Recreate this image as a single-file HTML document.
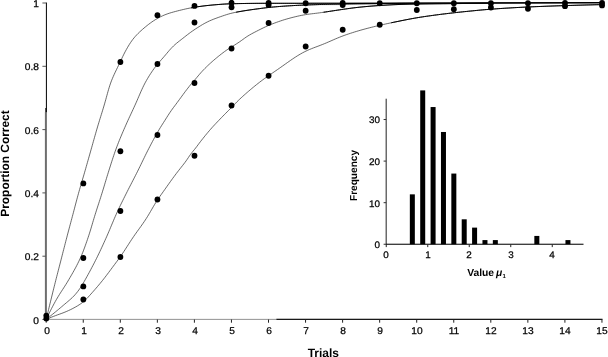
<!DOCTYPE html><html><head><meta charset="utf-8"><style>
html,body{margin:0;padding:0;background:#fff}
#c{position:relative;width:608px;height:357px;overflow:hidden;background:#fff;font-family:"Liberation Sans",sans-serif;color:#000}
.t{position:absolute;white-space:nowrap;line-height:1;text-rendering:geometricPrecision}
.yl{font-size:9.8px;text-align:right;width:30px;transform:scaleX(1.04);transform-origin:100% 50%;-webkit-text-stroke:0.25px #000}
.xl{font-size:9.8px;text-align:center;width:30px;transform:scaleX(1.04);transform-origin:50% 50%;-webkit-text-stroke:0.25px #000}
.iyl{font-size:9.5px;text-align:right;width:30px;transform:scaleX(1.04);transform-origin:100% 50%;-webkit-text-stroke:0.25px #000}
.ixl{font-size:9.5px;text-align:center;width:30px;transform:scaleX(1.04);transform-origin:50% 50%;-webkit-text-stroke:0.25px #000}
.b{font-weight:bold}
</style></head><body><div id="c">
<svg width="608" height="357" viewBox="0 0 608 357" style="position:absolute;left:0;top:0">
<rect x="45.9" y="2.5" width="1" height="110" fill="#000"/>
<rect x="45.3" y="108" width="1.6" height="4.5" fill="#111"/>
<rect x="44.9" y="112" width="2" height="208" fill="#6e6e6e"/>
<rect x="46" y="318.9" width="231" height="0.8" fill="#777"/>
<rect x="276.5" y="318.75" width="326" height="1.15" fill="#000"/>
<rect x="42.4" y="319.00" width="3.6" height="1" fill="#555"/>
<rect x="42.4" y="255.70" width="3.6" height="1" fill="#555"/>
<rect x="42.4" y="192.40" width="3.6" height="1" fill="#555"/>
<rect x="42.4" y="129.10" width="3.6" height="1" fill="#555"/>
<rect x="42.4" y="65.80" width="3.6" height="1" fill="#555"/>
<rect x="42.4" y="2.50" width="3.6" height="1" fill="#555"/>
<rect x="45.70" y="319.5" width="1" height="3.2" fill="#222"/>
<rect x="82.75" y="319.5" width="1" height="3.2" fill="#222"/>
<rect x="119.80" y="319.5" width="1" height="3.2" fill="#222"/>
<rect x="156.85" y="319.5" width="1" height="3.2" fill="#222"/>
<rect x="193.90" y="319.5" width="1" height="3.2" fill="#222"/>
<rect x="230.95" y="319.5" width="1" height="3.2" fill="#222"/>
<rect x="268.00" y="319.5" width="1" height="3.2" fill="#222"/>
<rect x="305.05" y="319.5" width="1" height="3.2" fill="#222"/>
<rect x="342.10" y="319.5" width="1" height="3.2" fill="#222"/>
<rect x="379.15" y="319.5" width="1" height="3.2" fill="#222"/>
<rect x="416.20" y="319.5" width="1" height="3.2" fill="#222"/>
<rect x="453.25" y="319.5" width="1" height="3.2" fill="#222"/>
<rect x="490.30" y="319.5" width="1" height="3.2" fill="#222"/>
<rect x="527.35" y="319.5" width="1" height="3.2" fill="#222"/>
<rect x="564.40" y="319.5" width="1" height="3.2" fill="#222"/>
<rect x="601.45" y="319.5" width="1" height="3.2" fill="#222"/>
<path d="M46.25 319.30 L46.71 317.35 L47.18 315.41 L47.64 313.46 L48.11 311.52 L48.57 309.57 L49.04 307.63 L49.51 305.69 L49.98 303.74 L50.46 301.80 L50.93 299.86 L51.41 297.91 L51.88 295.97 L52.36 294.03 L52.84 292.09 L53.32 290.15 L53.80 288.20 L54.29 286.26 L54.77 284.32 L55.26 282.38 L55.74 280.44 L56.23 278.50 L56.73 276.57 L57.22 274.63 L57.72 272.69 L58.22 270.75 L58.72 268.82 L59.22 266.88 L59.72 264.94 L60.22 263.01 L60.72 261.07 L61.21 259.13 L61.71 257.20 L62.21 255.26 L62.70 253.32 L63.20 251.38 L63.69 249.45 L64.19 247.51 L64.69 245.57 L65.18 243.63 L65.68 241.70 L66.18 239.76 L66.69 237.83 L67.19 235.89 L67.70 233.96 L68.21 232.02 L68.72 230.09 L69.24 228.16 L69.75 226.22 L70.27 224.29 L70.79 222.36 L71.30 220.43 L71.82 218.50 L72.33 216.56 L72.85 214.63 L73.36 212.70 L73.87 210.76 L74.38 208.83 L74.88 206.89 L75.39 204.96 L75.90 203.03 L76.41 201.09 L76.93 199.16 L77.45 197.23 L77.97 195.30 L78.51 193.37 L79.04 191.44 L79.59 189.52 L80.14 187.60 L80.70 185.68 L81.26 183.76 L81.82 181.84 L82.39 179.92 L82.95 178.00 L83.52 176.08 L84.08 174.16 L84.64 172.24 L85.19 170.32 L85.74 168.40 L86.29 166.48 L86.84 164.55 L87.39 162.63 L87.93 160.70 L88.48 158.78 L89.02 156.86 L89.57 154.93 L90.11 153.01 L90.66 151.08 L91.20 149.16 L91.75 147.23 L92.29 145.31 L92.83 143.38 L93.37 141.46 L93.92 139.53 L94.46 137.61 L95.00 135.68 L95.55 133.76 L96.10 131.84 L96.65 129.92 L97.22 128.00 L97.78 126.08 L98.36 124.16 L98.94 122.25 L99.52 120.34 L100.11 118.43 L100.71 116.52 L101.30 114.61 L101.90 112.70 L102.49 110.79 L103.07 108.87 L103.65 106.96 L104.22 105.04 L104.78 103.12 L105.32 101.20 L105.86 99.27 L106.39 97.34 L106.91 95.41 L107.44 93.48 L107.97 91.56 L108.52 89.63 L109.10 87.72 L109.70 85.81 L110.33 83.91 L111.01 82.03 L111.73 80.17 L112.48 78.32 L113.27 76.48 L114.08 74.65 L114.93 72.84 L115.79 71.03 L116.66 69.24 L117.54 67.44 L118.42 65.64 L119.28 63.84 L120.14 62.03 L120.98 60.22 L121.83 58.41 L122.70 56.60 L123.58 54.81 L124.48 53.02 L125.41 51.25 L126.37 49.50 L127.36 47.76 L128.37 46.04 L129.42 44.34 L130.51 42.66 L131.64 41.02 L132.82 39.41 L134.07 37.85 L135.37 36.33 L136.72 34.86 L138.12 33.43 L139.55 32.04 L141.02 30.69 L142.52 29.36 L144.03 28.06 L145.57 26.77 L147.12 25.52 L148.70 24.28 L150.30 23.08 L151.92 21.92 L153.57 20.80 L155.26 19.72 L156.98 18.70 L158.72 17.73 L160.49 16.81 L162.29 15.94 L164.12 15.14 L165.98 14.40 L167.85 13.71 L169.75 13.09 L171.67 12.51 L173.59 11.97 L175.52 11.44 L177.45 10.94 L179.39 10.45 L181.33 9.97 L183.28 9.50 L185.23 9.06 L187.18 8.63 L189.14 8.23 L191.11 7.85 L193.07 7.50 L195.05 7.17 L197.02 6.86 L199.00 6.57 L200.98 6.30 L202.96 6.04 L204.95 5.80 L206.94 5.57 L208.93 5.36 L210.92 5.16 L212.91 4.97 L214.90 4.80 L216.89 4.63 L218.89 4.47 L220.88 4.32 L222.87 4.18 L224.87 4.06 L226.87 3.95 L228.87 3.86 L230.86 3.78 L232.86 3.73 L234.86 3.68 L236.86 3.63 L238.86 3.59 L240.86 3.56 L242.86 3.52 L244.86 3.49 L246.86 3.45 L248.86 3.43 L250.86 3.40 L252.86 3.38 L254.86 3.36 L256.86 3.34 L258.86 3.33 L260.86 3.32 L262.86 3.31 L264.86 3.30 L266.86 3.30 L268.86 3.30 L270.86 3.30 L272.86 3.30 L274.86 3.30 L276.86 3.30 L278.86 3.30 L280.86 3.30 L282.86 3.30 L284.86 3.30 L286.86 3.30 L288.86 3.30 L290.86 3.30 L292.86 3.30 L294.86 3.30 L296.86 3.30 L298.86 3.30 L300.86 3.30 L302.86 3.30 L304.86 3.30 L306.86 3.30 L308.86 3.30 L310.86 3.30 L312.86 3.30 L314.86 3.30 L316.86 3.30 L318.86 3.30 L320.86 3.30 L322.86 3.30 L324.86 3.30 L326.86 3.30 L328.86 3.30 L330.86 3.30 L332.86 3.30 L334.86 3.30 L336.86 3.30 L338.86 3.30 L340.86 3.30 L342.86 3.30 L344.86 3.30 L346.86 3.30 L348.86 3.30 L350.86 3.30 L352.86 3.30 L354.86 3.29 L356.86 3.29 L358.86 3.29 L360.86 3.29 L362.86 3.29 L364.86 3.28 L366.86 3.28 L368.86 3.28 L370.86 3.27 L372.86 3.27 L374.86 3.27 L376.86 3.26 L378.86 3.26 L380.86 3.25 L382.86 3.25 L384.86 3.25 L386.86 3.24 L388.86 3.24 L390.86 3.23 L392.86 3.23 L394.86 3.22 L396.86 3.22 L398.86 3.21 L400.86 3.20 L402.86 3.20 L404.86 3.19 L406.86 3.19 L408.86 3.18 L410.86 3.18 L412.86 3.17 L414.86 3.16 L416.86 3.16 L418.86 3.15 L420.86 3.15 L422.86 3.14 L424.86 3.13 L426.86 3.13 L428.86 3.12 L430.86 3.12 L432.86 3.11 L434.86 3.10 L436.86 3.10 L438.86 3.09 L440.86 3.08 L442.86 3.08 L444.86 3.07 L446.86 3.07 L448.86 3.06 L450.86 3.06 L452.86 3.05 L454.86 3.04 L456.86 3.04 L458.86 3.03 L460.86 3.03 L462.86 3.02 L464.86 3.02 L466.86 3.01 L468.86 3.01 L470.86 3.00 L472.86 3.00 L474.86 2.99 L476.86 2.99 L478.86 2.98 L480.86 2.98 L482.86 2.97 L484.86 2.97 L486.86 2.97 L488.86 2.96 L490.86 2.96 L492.86 2.95 L494.86 2.95 L496.86 2.94 L498.86 2.94 L500.86 2.93 L502.86 2.93 L504.86 2.92 L506.86 2.92 L508.86 2.91 L510.86 2.91 L512.86 2.91 L514.86 2.90 L516.86 2.90 L518.86 2.89 L520.86 2.89 L522.86 2.88 L524.86 2.88 L526.86 2.87 L528.86 2.87 L530.86 2.86 L532.86 2.86 L534.86 2.85 L536.86 2.85 L538.86 2.85 L540.86 2.84 L542.86 2.84 L544.86 2.83 L546.86 2.83 L548.86 2.82 L550.86 2.82 L552.86 2.81 L554.86 2.81 L556.86 2.80 L558.86 2.80 L560.86 2.79 L562.86 2.79 L564.86 2.79 L566.86 2.78 L568.86 2.78 L570.86 2.77 L572.86 2.77 L574.86 2.76 L576.86 2.76 L578.86 2.75 L580.86 2.75 L582.86 2.74 L584.86 2.74 L586.86 2.73 L588.86 2.73 L590.86 2.73 L592.86 2.72 L594.86 2.72 L596.86 2.71 L598.86 2.71 L600.86 2.70" fill="none" stroke="#2a2a2a" stroke-width="0.7" stroke-linejoin="round"/>
<path d="M46.25 319.30 L47.11 317.50 L47.98 315.69 L48.86 313.90 L49.74 312.10 L50.64 310.32 L51.55 308.53 L52.47 306.76 L53.40 304.99 L54.35 303.23 L55.31 301.47 L56.29 299.73 L57.30 298.01 L58.33 296.29 L59.38 294.59 L60.45 292.90 L61.54 291.22 L62.62 289.54 L63.71 287.86 L64.79 286.18 L65.86 284.49 L66.91 282.79 L67.94 281.07 L68.96 279.35 L69.97 277.63 L70.98 275.90 L71.98 274.17 L72.97 272.43 L73.95 270.69 L74.92 268.94 L75.86 267.18 L76.79 265.41 L77.70 263.63 L78.59 261.83 L79.45 260.03 L80.29 258.21 L81.10 256.38 L81.88 254.54 L82.63 252.69 L83.36 250.83 L84.07 248.96 L84.77 247.09 L85.45 245.21 L86.12 243.32 L86.78 241.43 L87.43 239.54 L88.07 237.65 L88.70 235.75 L89.31 233.85 L89.91 231.94 L90.50 230.03 L91.08 228.11 L91.65 226.20 L92.22 224.28 L92.78 222.36 L93.35 220.44 L93.93 218.53 L94.51 216.61 L95.10 214.70 L95.70 212.80 L96.31 210.89 L96.92 208.98 L97.53 207.08 L98.15 205.18 L98.77 203.28 L99.38 201.37 L100.00 199.47 L100.61 197.57 L101.21 195.66 L101.81 193.75 L102.41 191.84 L102.99 189.93 L103.58 188.02 L104.16 186.10 L104.73 184.19 L105.31 182.27 L105.88 180.36 L106.46 178.44 L107.04 176.53 L107.63 174.62 L108.22 172.71 L108.82 170.80 L109.42 168.89 L110.02 166.98 L110.63 165.08 L111.23 163.17 L111.84 161.27 L112.46 159.36 L113.09 157.46 L113.72 155.57 L114.36 153.67 L115.02 151.78 L115.69 149.90 L116.38 148.02 L117.08 146.15 L117.80 144.28 L118.53 142.42 L119.27 140.57 L120.03 138.71 L120.79 136.87 L121.56 135.02 L122.34 133.18 L123.13 131.34 L123.92 129.50 L124.72 127.67 L125.52 125.84 L126.33 124.01 L127.15 122.18 L127.98 120.36 L128.81 118.55 L129.65 116.73 L130.50 114.92 L131.34 113.11 L132.19 111.29 L133.03 109.48 L133.87 107.66 L134.70 105.84 L135.52 104.02 L136.33 102.19 L137.13 100.36 L137.93 98.52 L138.71 96.69 L139.50 94.85 L140.30 93.01 L141.10 91.18 L141.93 89.36 L142.77 87.55 L143.64 85.75 L144.54 83.96 L145.48 82.20 L146.46 80.45 L147.46 78.72 L148.48 77.00 L149.53 75.31 L150.61 73.62 L151.72 71.95 L152.85 70.31 L154.01 68.68 L155.20 67.07 L156.43 65.50 L157.69 63.95 L158.99 62.42 L160.30 60.91 L161.62 59.41 L162.94 57.91 L164.25 56.40 L165.54 54.88 L166.83 53.35 L168.12 51.82 L169.42 50.30 L170.75 48.80 L172.12 47.35 L173.53 45.94 L175.00 44.59 L176.52 43.30 L178.08 42.04 L179.65 40.80 L181.23 39.58 L182.81 38.35 L184.38 37.11 L185.95 35.87 L187.53 34.65 L189.12 33.44 L190.73 32.26 L192.36 31.10 L194.01 29.96 L195.67 28.85 L197.35 27.76 L199.04 26.69 L200.73 25.63 L202.45 24.60 L204.18 23.61 L205.94 22.66 L207.72 21.75 L209.53 20.90 L211.36 20.11 L213.21 19.35 L215.08 18.63 L216.95 17.94 L218.84 17.26 L220.72 16.60 L222.61 15.95 L224.51 15.30 L226.41 14.68 L228.32 14.10 L230.24 13.56 L232.18 13.07 L234.13 12.63 L236.09 12.23 L238.05 11.85 L240.02 11.50 L241.99 11.16 L243.96 10.83 L245.94 10.52 L247.92 10.22 L249.90 9.93 L251.88 9.64 L253.86 9.37 L255.84 9.10 L257.82 8.84 L259.80 8.58 L261.79 8.31 L263.77 8.05 L265.75 7.80 L267.74 7.57 L269.73 7.35 L271.72 7.15 L273.71 6.97 L275.70 6.80 L277.69 6.64 L279.69 6.48 L281.68 6.33 L283.68 6.19 L285.67 6.05 L287.67 5.92 L289.66 5.79 L291.66 5.68 L293.66 5.56 L295.66 5.45 L297.65 5.35 L299.65 5.25 L301.65 5.16 L303.65 5.08 L305.64 5.00 L307.64 4.92 L309.64 4.85 L311.64 4.78 L313.64 4.71 L315.64 4.65 L317.64 4.58 L319.64 4.52 L321.64 4.47 L323.63 4.41 L325.63 4.36 L327.63 4.31 L329.63 4.26 L331.63 4.21 L333.63 4.17 L335.63 4.13 L337.63 4.09 L339.63 4.05 L341.63 4.02 L343.63 3.99 L345.63 3.96 L347.63 3.93 L349.63 3.90 L351.63 3.88 L353.63 3.85 L355.63 3.83 L357.63 3.81 L359.63 3.79 L361.63 3.77 L363.63 3.75 L365.63 3.73 L367.63 3.71 L369.63 3.69 L371.63 3.67 L373.63 3.65 L375.63 3.64 L377.63 3.62 L379.63 3.60 L381.63 3.58 L383.63 3.56 L385.63 3.54 L387.63 3.53 L389.63 3.51 L391.63 3.49 L393.63 3.47 L395.63 3.46 L397.63 3.44 L399.63 3.42 L401.63 3.41 L403.63 3.39 L405.63 3.38 L407.63 3.36 L409.63 3.35 L411.63 3.33 L413.63 3.32 L415.63 3.30 L417.63 3.29 L419.63 3.28 L421.63 3.26 L423.63 3.25 L425.63 3.24 L427.63 3.22 L429.63 3.21 L431.63 3.20 L433.63 3.18 L435.63 3.17 L437.63 3.16 L439.63 3.15 L441.63 3.14 L443.63 3.13 L445.63 3.12 L447.63 3.11 L449.63 3.10 L451.63 3.09 L453.63 3.09 L455.63 3.08 L457.63 3.07 L459.63 3.06 L461.63 3.06 L463.63 3.05 L465.63 3.04 L467.63 3.04 L469.63 3.03 L471.63 3.02 L473.63 3.02 L475.63 3.01 L477.63 3.01 L479.63 3.00 L481.63 2.99 L483.63 2.99 L485.63 2.98 L487.63 2.98 L489.63 2.97 L491.63 2.97 L493.63 2.96 L495.63 2.96 L497.63 2.95 L499.63 2.95 L501.63 2.94 L503.63 2.94 L505.63 2.93 L507.63 2.93 L509.63 2.92 L511.63 2.92 L513.63 2.91 L515.63 2.91 L517.63 2.90 L519.63 2.90 L521.63 2.89 L523.63 2.89 L525.63 2.88 L527.63 2.88 L529.63 2.87 L531.63 2.87 L533.63 2.86 L535.63 2.86 L537.63 2.85 L539.63 2.85 L541.63 2.84 L543.63 2.83 L545.63 2.83 L547.63 2.83 L549.63 2.82 L551.63 2.82 L553.63 2.81 L555.63 2.81 L557.63 2.80 L559.63 2.80 L561.63 2.79 L563.63 2.79 L565.63 2.78 L567.63 2.78 L569.63 2.77 L571.63 2.77 L573.63 2.76 L575.63 2.76 L577.63 2.75 L579.63 2.75 L581.63 2.74 L583.63 2.74 L585.63 2.74 L587.63 2.73 L589.63 2.73 L591.63 2.72 L593.63 2.72 L595.63 2.71 L597.63 2.71 L599.63 2.71 L601.63 2.70" fill="none" stroke="#2a2a2a" stroke-width="0.7" stroke-linejoin="round"/>
<path d="M46.25 319.30 L47.82 318.06 L49.39 316.82 L50.95 315.57 L52.51 314.32 L54.06 313.06 L55.61 311.79 L57.15 310.52 L58.69 309.24 L60.22 307.95 L61.75 306.66 L63.27 305.37 L64.80 304.08 L66.33 302.79 L67.86 301.51 L69.39 300.21 L70.89 298.89 L72.35 297.53 L73.76 296.11 L75.11 294.65 L76.41 293.13 L77.65 291.57 L78.85 289.97 L80.01 288.34 L81.12 286.67 L82.18 284.98 L83.20 283.26 L84.19 281.53 L85.17 279.79 L86.15 278.04 L87.12 276.29 L88.08 274.54 L89.04 272.78 L89.99 271.02 L90.93 269.26 L91.87 267.49 L92.80 265.72 L93.72 263.95 L94.64 262.17 L95.54 260.38 L96.44 258.60 L97.32 256.80 L98.20 255.01 L99.07 253.20 L99.93 251.40 L100.78 249.59 L101.62 247.78 L102.46 245.96 L103.29 244.14 L104.12 242.32 L104.95 240.50 L105.77 238.67 L106.58 236.85 L107.38 235.02 L108.18 233.18 L108.96 231.34 L109.74 229.50 L110.51 227.65 L111.29 225.81 L112.06 223.96 L112.83 222.12 L113.61 220.28 L114.39 218.44 L115.19 216.60 L116.00 214.77 L116.82 212.95 L117.65 211.13 L118.49 209.32 L119.35 207.51 L120.21 205.71 L121.09 203.91 L121.97 202.11 L122.85 200.32 L123.74 198.53 L124.63 196.74 L125.53 194.95 L126.43 193.16 L127.33 191.37 L128.23 189.59 L129.14 187.81 L130.05 186.03 L130.97 184.25 L131.89 182.48 L132.81 180.70 L133.72 178.92 L134.64 177.14 L135.54 175.36 L136.45 173.58 L137.35 171.79 L138.23 170.00 L139.12 168.20 L140.00 166.41 L140.87 164.61 L141.74 162.81 L142.61 161.01 L143.49 159.21 L144.36 157.41 L145.24 155.61 L146.12 153.82 L147.02 152.03 L147.92 150.24 L148.83 148.46 L149.75 146.69 L150.67 144.91 L151.60 143.14 L152.54 141.38 L153.48 139.61 L154.43 137.85 L155.40 136.10 L156.37 134.35 L157.36 132.61 L158.36 130.89 L159.38 129.17 L160.42 127.46 L161.48 125.76 L162.54 124.07 L163.61 122.38 L164.69 120.69 L165.76 119.00 L166.83 117.31 L167.90 115.62 L168.99 113.94 L170.09 112.28 L171.22 110.63 L172.38 109.00 L173.57 107.39 L174.77 105.79 L175.97 104.19 L177.16 102.59 L178.35 100.98 L179.53 99.36 L180.71 97.75 L181.89 96.13 L183.07 94.52 L184.26 92.91 L185.45 91.31 L186.66 89.71 L187.88 88.13 L189.12 86.56 L190.38 85.00 L191.66 83.47 L192.97 81.96 L194.29 80.46 L195.59 78.94 L196.88 77.42 L198.17 75.88 L199.46 74.35 L200.77 72.84 L202.11 71.36 L203.48 69.91 L204.88 68.48 L206.30 67.07 L207.73 65.68 L209.19 64.31 L210.66 62.96 L212.15 61.62 L213.66 60.31 L215.18 59.01 L216.72 57.73 L218.26 56.46 L219.82 55.21 L221.39 53.97 L222.97 52.75 L224.58 51.55 L226.21 50.40 L227.87 49.28 L229.55 48.20 L231.24 47.14 L232.94 46.09 L234.64 45.02 L236.32 43.95 L238.00 42.86 L239.66 41.75 L241.30 40.60 L242.92 39.44 L244.54 38.26 L246.17 37.12 L247.84 36.03 L249.55 34.99 L251.29 34.00 L253.05 33.05 L254.82 32.13 L256.60 31.22 L258.39 30.31 L260.17 29.41 L261.96 28.52 L263.76 27.65 L265.57 26.79 L267.39 25.96 L269.22 25.17 L271.07 24.41 L272.93 23.68 L274.80 22.97 L276.68 22.29 L278.57 21.62 L280.46 20.97 L282.36 20.34 L284.26 19.73 L286.18 19.16 L288.10 18.61 L290.03 18.08 L291.96 17.57 L293.90 17.08 L295.84 16.61 L297.79 16.16 L299.75 15.73 L301.71 15.33 L303.67 14.97 L305.64 14.63 L307.62 14.33 L309.60 14.06 L311.58 13.81 L313.57 13.58 L315.56 13.34 L317.54 13.10 L319.52 12.84 L321.51 12.57 L323.48 12.28 L325.46 11.98 L327.44 11.68 L329.42 11.38 L331.39 11.08 L333.37 10.78 L335.35 10.48 L337.33 10.18 L339.30 9.88 L341.28 9.59 L343.26 9.31 L345.24 9.02 L347.22 8.74 L349.20 8.46 L351.18 8.19 L353.17 7.93 L355.15 7.69 L357.14 7.46 L359.13 7.24 L361.12 7.04 L363.11 6.84 L365.10 6.65 L367.09 6.47 L369.08 6.30 L371.07 6.14 L373.07 5.98 L375.06 5.83 L377.06 5.68 L379.05 5.54 L381.05 5.41 L383.04 5.28 L385.04 5.16 L387.04 5.04 L389.03 4.93 L391.03 4.83 L393.03 4.73 L395.03 4.65 L397.03 4.57 L399.02 4.49 L401.02 4.42 L403.02 4.35 L405.02 4.29 L407.02 4.23 L409.02 4.17 L411.02 4.12 L413.02 4.08 L415.02 4.04 L417.02 4.00 L419.02 3.97 L421.02 3.94 L423.02 3.91 L425.02 3.88 L427.02 3.86 L429.02 3.84 L431.02 3.82 L433.02 3.80 L435.02 3.78 L437.02 3.76 L439.02 3.74 L441.02 3.72 L443.02 3.70 L445.01 3.69 L447.01 3.67 L449.01 3.65 L451.01 3.63 L453.01 3.61 L455.01 3.59 L457.01 3.56 L459.01 3.54 L461.01 3.52 L463.01 3.49 L465.01 3.47 L467.01 3.45 L469.01 3.42 L471.01 3.40 L473.01 3.38 L475.01 3.36 L477.01 3.33 L479.01 3.31 L481.01 3.29 L483.01 3.27 L485.01 3.25 L487.01 3.23 L489.01 3.21 L491.01 3.19 L493.01 3.17 L495.01 3.16 L497.01 3.14 L499.01 3.12 L501.01 3.10 L503.01 3.08 L505.01 3.07 L507.01 3.05 L509.01 3.03 L511.01 3.02 L513.01 3.00 L515.01 2.99 L517.01 2.97 L519.01 2.96 L521.01 2.95 L523.01 2.94 L525.01 2.93 L527.01 2.91 L529.01 2.91 L531.01 2.90 L533.01 2.89 L535.01 2.88 L537.01 2.87 L539.01 2.86 L541.01 2.85 L543.01 2.85 L545.01 2.84 L547.01 2.83 L549.01 2.82 L551.01 2.81 L553.01 2.81 L555.01 2.80 L557.01 2.79 L559.01 2.79 L561.01 2.78 L563.01 2.77 L565.01 2.77 L567.01 2.76 L569.01 2.75 L571.01 2.75 L573.01 2.74 L575.01 2.74 L577.01 2.73 L579.01 2.73 L581.01 2.72 L583.01 2.72 L585.01 2.72 L587.01 2.71 L589.01 2.71 L591.01 2.71 L593.01 2.70 L595.01 2.70 L597.01 2.70 L599.01 2.70 L601.01 2.70" fill="none" stroke="#2a2a2a" stroke-width="0.7" stroke-linejoin="round"/>
<path d="M46.25 319.30 L48.10 318.54 L49.95 317.79 L51.81 317.05 L53.67 316.32 L55.54 315.61 L57.42 314.92 L59.30 314.24 L61.18 313.56 L63.05 312.86 L64.91 312.13 L66.76 311.35 L68.58 310.54 L70.39 309.69 L72.18 308.80 L73.95 307.87 L75.70 306.91 L77.43 305.90 L79.12 304.84 L80.77 303.72 L82.38 302.53 L83.92 301.27 L85.40 299.93 L86.82 298.53 L88.19 297.08 L89.53 295.60 L90.86 294.10 L92.19 292.61 L93.51 291.11 L94.83 289.60 L96.15 288.10 L97.45 286.58 L98.74 285.05 L100.02 283.52 L101.29 281.97 L102.55 280.41 L103.79 278.85 L105.02 277.27 L106.24 275.68 L107.45 274.09 L108.65 272.49 L109.84 270.89 L111.04 269.28 L112.23 267.68 L113.42 266.07 L114.61 264.47 L115.81 262.86 L117.01 261.26 L118.20 259.66 L119.38 258.04 L120.55 256.42 L121.69 254.77 L122.80 253.12 L123.91 251.45 L125.00 249.77 L126.09 248.09 L127.17 246.41 L128.25 244.73 L129.33 243.05 L130.42 241.37 L131.52 239.70 L132.63 238.03 L133.75 236.38 L134.89 234.74 L136.05 233.10 L137.21 231.48 L138.38 229.86 L139.55 228.24 L140.72 226.61 L141.88 224.98 L143.03 223.35 L144.16 221.70 L145.28 220.04 L146.37 218.36 L147.43 216.67 L148.47 214.96 L149.49 213.24 L150.50 211.52 L151.51 209.79 L152.51 208.06 L153.52 206.33 L154.54 204.61 L155.58 202.90 L156.64 201.21 L157.73 199.53 L158.86 197.88 L160.00 196.24 L161.16 194.61 L162.32 192.98 L163.48 191.35 L164.63 189.72 L165.79 188.09 L166.94 186.45 L168.10 184.82 L169.26 183.19 L170.42 181.57 L171.59 179.94 L172.76 178.32 L173.94 176.71 L175.13 175.10 L176.33 173.50 L177.55 171.91 L178.78 170.33 L180.02 168.76 L181.26 167.20 L182.50 165.63 L183.73 164.05 L184.94 162.46 L186.12 160.85 L187.27 159.21 L188.38 157.55 L189.49 155.89 L190.64 154.26 L191.85 152.68 L193.11 151.13 L194.38 149.59 L195.63 148.03 L196.85 146.45 L198.04 144.84 L199.23 143.24 L200.44 141.65 L201.67 140.07 L202.91 138.50 L204.16 136.93 L205.42 135.38 L206.69 133.84 L207.97 132.30 L209.27 130.78 L210.58 129.27 L211.90 127.77 L213.24 126.29 L214.60 124.82 L215.97 123.36 L217.35 121.91 L218.73 120.47 L220.11 119.02 L221.51 117.59 L222.90 116.15 L224.30 114.72 L225.71 113.30 L227.12 111.89 L228.53 110.47 L229.94 109.05 L231.34 107.63 L232.74 106.19 L234.12 104.75 L235.51 103.31 L236.92 101.89 L238.34 100.48 L239.78 99.10 L241.24 97.73 L242.72 96.38 L244.20 95.05 L245.70 93.72 L247.21 92.41 L248.72 91.10 L250.25 89.81 L251.78 88.52 L253.32 87.24 L254.87 85.98 L256.42 84.72 L257.99 83.48 L259.57 82.25 L261.16 81.04 L262.76 79.84 L264.38 78.67 L266.01 77.51 L267.65 76.36 L269.29 75.22 L270.94 74.08 L272.58 72.95 L274.23 71.81 L275.88 70.68 L277.52 69.55 L279.17 68.41 L280.81 67.26 L282.44 66.10 L284.07 64.95 L285.70 63.79 L287.33 62.63 L288.97 61.48 L290.61 60.34 L292.26 59.21 L293.92 58.09 L295.59 57.00 L297.28 55.92 L298.98 54.88 L300.71 53.87 L302.45 52.89 L304.22 51.96 L306.01 51.07 L307.82 50.23 L309.66 49.44 L311.51 48.68 L313.37 47.95 L315.24 47.24 L317.11 46.54 L318.98 45.83 L320.85 45.12 L322.71 44.39 L324.56 43.63 L326.41 42.86 L328.24 42.07 L330.08 41.27 L331.91 40.46 L333.74 39.66 L335.57 38.86 L337.42 38.08 L339.27 37.33 L341.13 36.59 L343.00 35.89 L344.88 35.20 L346.76 34.54 L348.66 33.90 L350.56 33.27 L352.46 32.66 L354.37 32.06 L356.28 31.47 L358.20 30.90 L360.12 30.34 L362.04 29.79 L363.97 29.26 L365.90 28.74 L367.83 28.23 L369.77 27.73 L371.71 27.24 L373.65 26.76 L375.59 26.29 L377.54 25.83 L379.49 25.37 L381.43 24.92 L383.39 24.48 L385.34 24.05 L387.29 23.62 L389.25 23.21 L391.21 22.79 L393.16 22.39 L395.12 21.98 L397.08 21.58 L399.04 21.18 L401.00 20.78 L402.96 20.38 L404.92 19.99 L406.88 19.61 L408.85 19.23 L410.81 18.86 L412.78 18.50 L414.75 18.15 L416.72 17.81 L418.69 17.48 L420.67 17.17 L422.65 16.86 L424.62 16.56 L426.60 16.27 L428.58 15.99 L430.56 15.71 L432.54 15.44 L434.52 15.17 L436.51 14.90 L438.49 14.65 L440.47 14.39 L442.46 14.14 L444.44 13.90 L446.43 13.66 L448.41 13.42 L450.40 13.19 L452.39 12.96 L454.38 12.73 L456.36 12.51 L458.35 12.30 L460.34 12.09 L462.33 11.88 L464.32 11.67 L466.31 11.47 L468.30 11.27 L470.29 11.07 L472.28 10.88 L474.27 10.68 L476.26 10.48 L478.25 10.29 L480.24 10.10 L482.23 9.92 L484.23 9.74 L486.22 9.57 L488.21 9.41 L490.21 9.25 L492.20 9.10 L494.19 8.96 L496.19 8.82 L498.18 8.68 L500.18 8.55 L502.18 8.42 L504.17 8.29 L506.17 8.17 L508.16 8.05 L510.16 7.93 L512.16 7.81 L514.15 7.70 L516.15 7.59 L518.15 7.48 L520.15 7.38 L522.14 7.28 L524.14 7.18 L526.14 7.08 L528.14 6.99 L530.13 6.90 L532.13 6.81 L534.13 6.72 L536.13 6.64 L538.13 6.56 L540.13 6.47 L542.12 6.40 L544.12 6.32 L546.12 6.24 L548.12 6.17 L550.12 6.10 L552.12 6.03 L554.12 5.96 L556.11 5.89 L558.11 5.82 L560.11 5.75 L562.11 5.69 L564.11 5.63 L566.11 5.56 L568.11 5.50 L570.11 5.44 L572.11 5.38 L574.11 5.32 L576.10 5.26 L578.10 5.20 L580.10 5.15 L582.10 5.09 L584.10 5.04 L586.10 4.98 L588.10 4.93 L590.10 4.88 L592.10 4.83 L594.10 4.78 L596.10 4.73 L598.10 4.69 L600.10 4.64" fill="none" stroke="#2a2a2a" stroke-width="0.7" stroke-linejoin="round"/>
<rect x="305.5" y="2.7" width="37" height="2.4" fill="#8a8a8a"/>
<path d="M191.11 7.85 L193.07 7.50 L195.05 7.17 L197.02 6.86 L199.00 6.57 L200.98 6.30 L202.96 6.04 L204.95 5.80 L206.94 5.57 L208.93 5.36 L210.92 5.16 L212.91 4.97 L214.90 4.80 L216.89 4.63 L218.89 4.47 L220.88 4.32 L222.87 4.18 L224.87 4.06 L226.87 3.95 L228.87 3.86 L230.86 3.78 L232.86 3.73 L234.86 3.68 L236.86 3.63 L238.86 3.59 L240.86 3.56 L242.86 3.52 L244.86 3.49 L246.86 3.45 L248.86 3.43 L250.86 3.40 L252.86 3.38 L254.86 3.36 L256.86 3.34 L258.86 3.33 L260.86 3.32 L262.86 3.31 L264.86 3.30 L266.86 3.30 L268.86 3.30 L270.86 3.30 L272.86 3.30 L274.86 3.30 L276.86 3.30 L278.86 3.30 L280.86 3.30 L282.86 3.30 L284.86 3.30 L286.86 3.30 L288.86 3.30 L290.86 3.30 L292.86 3.30 L294.86 3.30 L296.86 3.30 L298.86 3.30 L300.86 3.30 L302.86 3.30 L304.86 3.30 L306.86 3.30 L308.86 3.30 L310.86 3.30 L312.86 3.30 L314.86 3.30 L316.86 3.30 L318.86 3.30 L320.86 3.30 L322.86 3.30 L324.86 3.30 L326.86 3.30 L328.86 3.30 L330.86 3.30 L332.86 3.30 L334.86 3.30 L336.86 3.30 L338.86 3.30 L340.86 3.30 L342.86 3.30 L344.86 3.30" fill="none" stroke="#000" stroke-width="1.0" stroke-linejoin="round"/>
<path d="M236.09 12.23 L238.05 11.85 L240.02 11.50 L241.99 11.16 L243.96 10.83 L245.94 10.52 L247.92 10.22 L249.90 9.93 L251.88 9.64 L253.86 9.37 L255.84 9.10 L257.82 8.84 L259.80 8.58 L261.79 8.31 L263.77 8.05 L265.75 7.80 L267.74 7.57 L269.73 7.35 L271.72 7.15 L273.71 6.97 L275.70 6.80 L277.69 6.64 L279.69 6.48 L281.68 6.33 L283.68 6.19 L285.67 6.05 L287.67 5.92 L289.66 5.79 L291.66 5.68 L293.66 5.56 L295.66 5.45 L297.65 5.35 L299.65 5.25 L301.65 5.16 L303.65 5.08 L305.64 5.00 L307.64 4.92 L309.64 4.85 L311.64 4.78 L313.64 4.71 L315.64 4.65 L317.64 4.58 L319.64 4.52 L321.64 4.47 L323.63 4.41 L325.63 4.36 L327.63 4.31 L329.63 4.26 L331.63 4.21 L333.63 4.17 L335.63 4.13 L337.63 4.09 L339.63 4.05 L341.63 4.02 L343.63 3.99 L345.63 3.96 L347.63 3.93 L349.63 3.90 L351.63 3.88 L353.63 3.85 L355.63 3.83 L357.63 3.81 L359.63 3.79 L361.63 3.77 L363.63 3.75 L365.63 3.73 L367.63 3.71 L369.63 3.69 L371.63 3.67 L373.63 3.65 L375.63 3.64 L377.63 3.62 L379.63 3.60 L381.63 3.58 L383.63 3.56 L385.63 3.54 L387.63 3.53 L389.63 3.51 L391.63 3.49 L393.63 3.47 L395.63 3.46 L397.63 3.44 L399.63 3.42 L401.63 3.41 L403.63 3.39 L405.63 3.38 L407.63 3.36 L409.63 3.35 L411.63 3.33 L413.63 3.32 L415.63 3.30 L417.63 3.29 L419.63 3.28" fill="none" stroke="#000" stroke-width="1.0" stroke-linejoin="round"/>
<path d="M323.48 12.28 L325.46 11.98 L327.44 11.68 L329.42 11.38 L331.39 11.08 L333.37 10.78 L335.35 10.48 L337.33 10.18 L339.30 9.88 L341.28 9.59 L343.26 9.31 L345.24 9.02 L347.22 8.74 L349.20 8.46 L351.18 8.19 L353.17 7.93 L355.15 7.69 L357.14 7.46 L359.13 7.24 L361.12 7.04 L363.11 6.84 L365.10 6.65 L367.09 6.47 L369.08 6.30 L371.07 6.14 L373.07 5.98 L375.06 5.83 L377.06 5.68 L379.05 5.54 L381.05 5.41 L383.04 5.28 L385.04 5.16 L387.04 5.04 L389.03 4.93 L391.03 4.83 L393.03 4.73 L395.03 4.65 L397.03 4.57 L399.02 4.49 L401.02 4.42 L403.02 4.35 L405.02 4.29 L407.02 4.23 L409.02 4.17 L411.02 4.12 L413.02 4.08 L415.02 4.04 L417.02 4.00 L419.02 3.97 L421.02 3.94 L423.02 3.91 L425.02 3.88 L427.02 3.86 L429.02 3.84 L431.02 3.82 L433.02 3.80 L435.02 3.78 L437.02 3.76 L439.02 3.74 L441.02 3.72 L443.02 3.70 L445.01 3.69 L447.01 3.67 L449.01 3.65 L451.01 3.63 L453.01 3.61 L455.01 3.59 L457.01 3.56 L459.01 3.54 L461.01 3.52 L463.01 3.49 L465.01 3.47 L467.01 3.45 L469.01 3.42 L471.01 3.40 L473.01 3.38 L475.01 3.36 L477.01 3.33 L479.01 3.31 L481.01 3.29 L483.01 3.27 L485.01 3.25 L487.01 3.23 L489.01 3.21 L491.01 3.19 L493.01 3.17" fill="none" stroke="#000" stroke-width="1.0" stroke-linejoin="round"/>
<path d="M391.21 22.79 L393.16 22.39 L395.12 21.98 L397.08 21.58 L399.04 21.18 L401.00 20.78 L402.96 20.38 L404.92 19.99 L406.88 19.61 L408.85 19.23 L410.81 18.86 L412.78 18.50 L414.75 18.15 L416.72 17.81 L418.69 17.48 L420.67 17.17 L422.65 16.86 L424.62 16.56 L426.60 16.27 L428.58 15.99 L430.56 15.71 L432.54 15.44 L434.52 15.17 L436.51 14.90 L438.49 14.65 L440.47 14.39 L442.46 14.14 L444.44 13.90 L446.43 13.66 L448.41 13.42 L450.40 13.19 L452.39 12.96 L454.38 12.73 L456.36 12.51 L458.35 12.30 L460.34 12.09 L462.33 11.88 L464.32 11.67 L466.31 11.47 L468.30 11.27 L470.29 11.07 L472.28 10.88 L474.27 10.68 L476.26 10.48 L478.25 10.29 L480.24 10.10 L482.23 9.92 L484.23 9.74 L486.22 9.57 L488.21 9.41 L490.21 9.25 L492.20 9.10 L494.19 8.96 L496.19 8.82 L498.18 8.68 L500.18 8.55 L502.18 8.42 L504.17 8.29 L506.17 8.17 L508.16 8.05 L510.16 7.93 L512.16 7.81 L514.15 7.70 L516.15 7.59 L518.15 7.48 L520.15 7.38 L522.14 7.28 L524.14 7.18 L526.14 7.08 L528.14 6.99 L530.13 6.90 L532.13 6.81 L534.13 6.72 L536.13 6.64 L538.13 6.56 L540.13 6.47 L542.12 6.40 L544.12 6.32 L546.12 6.24 L548.12 6.17 L550.12 6.10 L552.12 6.03 L554.12 5.96 L556.11 5.89 L558.11 5.82 L560.11 5.75 L562.11 5.69 L564.11 5.63 L566.11 5.56 L568.11 5.50 L570.11 5.44 L572.11 5.38 L574.11 5.32 L576.10 5.26 L578.10 5.20 L580.10 5.15 L582.10 5.09 L584.10 5.04 L586.10 4.98 L588.10 4.93 L590.10 4.88 L592.10 4.83 L594.10 4.78 L596.10 4.73 L598.10 4.69 L600.10 4.64" fill="none" stroke="#000" stroke-width="1.0" stroke-linejoin="round"/>
<path d="M342 3.3 L602 2.7" stroke="#000" stroke-width="1.25"/>
<ellipse cx="46.30" cy="315.60" rx="2.9" ry="2.9" fill="#000"/>
<ellipse cx="46.30" cy="318.60" rx="2.9" ry="2.9" fill="#000"/>
<ellipse cx="83.35" cy="183.40" rx="2.9" ry="2.9" fill="#000"/>
<ellipse cx="83.35" cy="258.00" rx="2.9" ry="2.9" fill="#000"/>
<ellipse cx="83.35" cy="286.40" rx="2.9" ry="2.9" fill="#000"/>
<ellipse cx="83.35" cy="299.50" rx="2.9" ry="2.9" fill="#000"/>
<ellipse cx="120.40" cy="62.00" rx="2.9" ry="2.9" fill="#000"/>
<ellipse cx="120.40" cy="151.25" rx="2.9" ry="2.9" fill="#000"/>
<ellipse cx="120.40" cy="211.00" rx="2.9" ry="2.9" fill="#000"/>
<ellipse cx="120.40" cy="257.00" rx="2.9" ry="2.9" fill="#000"/>
<ellipse cx="157.45" cy="15.25" rx="2.9" ry="2.9" fill="#000"/>
<ellipse cx="157.45" cy="64.00" rx="2.9" ry="2.9" fill="#000"/>
<ellipse cx="157.45" cy="135.00" rx="2.9" ry="2.9" fill="#000"/>
<ellipse cx="157.45" cy="199.50" rx="2.9" ry="2.9" fill="#000"/>
<ellipse cx="194.50" cy="5.90" rx="2.9" ry="2.9" fill="#000"/>
<ellipse cx="194.50" cy="22.50" rx="2.9" ry="2.9" fill="#000"/>
<ellipse cx="194.50" cy="83.00" rx="2.9" ry="2.9" fill="#000"/>
<ellipse cx="194.50" cy="155.75" rx="2.9" ry="2.9" fill="#000"/>
<ellipse cx="231.55" cy="2.75" rx="2.9" ry="2.9" fill="#000"/>
<ellipse cx="231.55" cy="7.25" rx="2.9" ry="2.9" fill="#000"/>
<ellipse cx="231.55" cy="48.50" rx="2.9" ry="2.9" fill="#000"/>
<ellipse cx="231.55" cy="105.50" rx="2.9" ry="2.9" fill="#000"/>
<ellipse cx="268.60" cy="3.00" rx="2.9" ry="2.9" fill="#000"/>
<ellipse cx="268.60" cy="5.00" rx="2.9" ry="2.9" fill="#000"/>
<ellipse cx="268.60" cy="23.00" rx="2.9" ry="2.9" fill="#000"/>
<ellipse cx="268.60" cy="75.75" rx="2.9" ry="2.9" fill="#000"/>
<ellipse cx="305.65" cy="3.25" rx="2.9" ry="2.9" fill="#000"/>
<ellipse cx="305.65" cy="10.75" rx="2.9" ry="2.9" fill="#000"/>
<ellipse cx="305.65" cy="46.50" rx="2.9" ry="2.9" fill="#000"/>
<ellipse cx="342.70" cy="3.00" rx="2.9" ry="2.9" fill="#000"/>
<ellipse cx="342.70" cy="5.00" rx="2.9" ry="2.9" fill="#000"/>
<ellipse cx="342.70" cy="29.75" rx="2.9" ry="2.9" fill="#000"/>
<ellipse cx="379.75" cy="3.25" rx="2.9" ry="2.9" fill="#000"/>
<ellipse cx="379.75" cy="24.75" rx="2.9" ry="2.9" fill="#000"/>
<ellipse cx="416.80" cy="3.25" rx="2.9" ry="2.9" fill="#000"/>
<ellipse cx="416.80" cy="10.00" rx="2.9" ry="2.9" fill="#000"/>
<ellipse cx="453.85" cy="3.25" rx="2.9" ry="2.9" fill="#000"/>
<ellipse cx="453.85" cy="9.25" rx="2.9" ry="2.9" fill="#000"/>
<ellipse cx="490.90" cy="3.25" rx="2.9" ry="2.9" fill="#000"/>
<ellipse cx="490.90" cy="7.50" rx="2.9" ry="2.9" fill="#000"/>
<ellipse cx="527.95" cy="3.25" rx="2.9" ry="2.9" fill="#000"/>
<ellipse cx="527.95" cy="8.75" rx="2.9" ry="2.9" fill="#000"/>
<ellipse cx="565.00" cy="2.90" rx="2.9" ry="2.9" fill="#000"/>
<ellipse cx="565.00" cy="6.20" rx="2.9" ry="2.9" fill="#000"/>
<ellipse cx="602.05" cy="3.00" rx="2.9" ry="2.9" fill="#000"/>
<ellipse cx="602.05" cy="5.40" rx="2.9" ry="2.9" fill="#000"/>
<rect x="385.5" y="98.7" width="1.5" height="146" fill="#6a6a6a"/>
<rect x="386" y="243.7" width="197.5" height="1.1" fill="#111"/>
<rect x="383.6" y="243.75" width="2.6" height="1" fill="#333"/>
<rect x="383.6" y="202.17" width="2.6" height="1" fill="#333"/>
<rect x="383.6" y="160.59" width="2.6" height="1" fill="#333"/>
<rect x="383.6" y="119.01" width="2.6" height="1" fill="#333"/>
<rect x="385.75" y="244.5" width="1" height="2.6" fill="#222"/>
<rect x="427.25" y="244.5" width="1" height="2.6" fill="#222"/>
<rect x="468.75" y="244.5" width="1" height="2.6" fill="#222"/>
<rect x="510.25" y="244.5" width="1" height="2.6" fill="#222"/>
<rect x="551.75" y="244.5" width="1" height="2.6" fill="#222"/>
<rect x="409.84" y="194.35" width="5.0" height="49.90" fill="#000"/>
<rect x="420.21" y="90.40" width="5.0" height="153.85" fill="#000"/>
<rect x="430.59" y="107.04" width="5.0" height="137.21" fill="#000"/>
<rect x="440.96" y="131.98" width="5.0" height="112.27" fill="#000"/>
<rect x="451.34" y="173.56" width="5.0" height="70.69" fill="#000"/>
<rect x="461.71" y="219.30" width="5.0" height="24.95" fill="#000"/>
<rect x="472.09" y="227.62" width="5.0" height="16.63" fill="#000"/>
<rect x="482.46" y="240.09" width="5.0" height="4.16" fill="#000"/>
<rect x="492.84" y="240.09" width="5.0" height="4.16" fill="#000"/>
<rect x="534.34" y="235.93" width="5.0" height="8.32" fill="#000"/>
<rect x="565.46" y="240.09" width="5.0" height="4.16" fill="#000"/>
</svg>
<div class="t yl" style="left:9.3px;top:316.50px">0</div>
<div class="t yl" style="left:9.3px;top:253.20px">0.2</div>
<div class="t yl" style="left:9.3px;top:189.90px">0.4</div>
<div class="t yl" style="left:9.3px;top:126.60px">0.6</div>
<div class="t yl" style="left:9.3px;top:63.30px">0.8</div>
<div class="t yl" style="left:9.3px;top:-0.00px">1</div>
<div class="t xl" style="left:31.50px;top:326.60px">0</div>
<div class="t xl" style="left:68.55px;top:326.60px">1</div>
<div class="t xl" style="left:105.60px;top:326.60px">2</div>
<div class="t xl" style="left:142.65px;top:326.60px">3</div>
<div class="t xl" style="left:179.70px;top:326.60px">4</div>
<div class="t xl" style="left:216.75px;top:326.60px">5</div>
<div class="t xl" style="left:253.80px;top:326.60px">6</div>
<div class="t xl" style="left:290.85px;top:326.60px">7</div>
<div class="t xl" style="left:327.90px;top:326.60px">8</div>
<div class="t xl" style="left:364.95px;top:326.60px">9</div>
<div class="t xl" style="left:402.00px;top:326.60px">10</div>
<div class="t xl" style="left:439.05px;top:326.60px">11</div>
<div class="t xl" style="left:476.10px;top:326.60px">12</div>
<div class="t xl" style="left:513.15px;top:326.60px">13</div>
<div class="t xl" style="left:550.20px;top:326.60px">14</div>
<div class="t xl" style="left:587.25px;top:326.60px">15</div>
<div class="t b" style="font-size:12px;left:307.7px;top:347.3px">Trials</div>
<div class="t b" style="font-size:11.9px;left:0;top:0;transform-origin:0 0;transform:translate(0.1px,216.7px) rotate(-90deg)">Proportion Correct</div>
<div class="t iyl" style="left:349.6px;top:241.20px">0</div>
<div class="t iyl" style="left:349.6px;top:199.62px">10</div>
<div class="t iyl" style="left:349.6px;top:158.04px">20</div>
<div class="t iyl" style="left:349.6px;top:116.46px">30</div>
<div class="t ixl" style="left:371.25px;top:250.50px">0</div>
<div class="t ixl" style="left:412.75px;top:250.50px">1</div>
<div class="t ixl" style="left:454.25px;top:250.50px">2</div>
<div class="t ixl" style="left:495.75px;top:250.50px">3</div>
<div class="t ixl" style="left:537.25px;top:250.50px">4</div>
<div class="t b" style="font-size:10.1px;left:0;top:0;transform-origin:0 0;transform:translate(349.8px,201px) rotate(-90deg)">Frequency</div>
<div class="t b" style="font-size:10.3px;left:467.2px;top:268.6px;word-spacing:-0.9px">Value <i>μ</i><span style="font-size:6px;position:relative;top:2.6px;left:0.3px">1</span></div>
</div></body></html>
